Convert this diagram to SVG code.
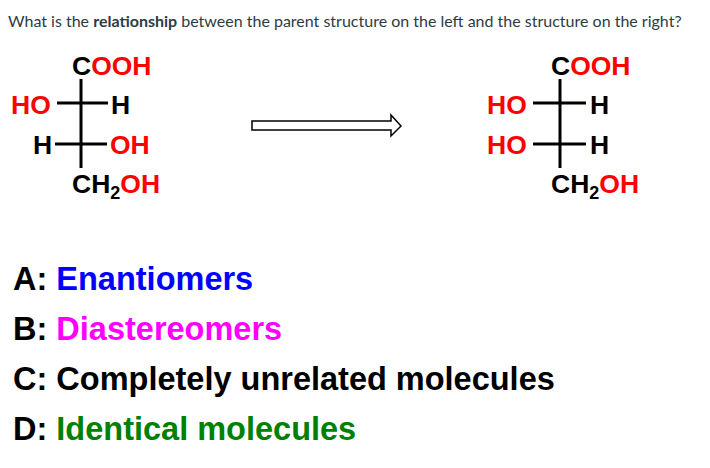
<svg xmlns="http://www.w3.org/2000/svg" width="710" height="468" viewBox="0 0 710 468">
<style>
.q{font-family:Lato,"Liberation Sans",sans-serif;font-size:16px;fill:#2d3b45}
.m{font-family:"Liberation Sans",Arial,sans-serif;font-weight:bold;font-size:26.5px}
.r{fill:#ff0000}.k{fill:#000}
.a{font-family:"Liberation Sans",Arial,sans-serif;font-weight:bold;font-size:32.5px;fill:#000}
.b{stroke:#000;stroke-width:3;fill:none}
</style>
<rect width="710" height="468" fill="#fff"/>
<text class="q" x="8" y="27">What is the <tspan font-weight="bold">relationship</tspan> between the parent structure on the left and the structure on the right?</text>
<g id="left">
<path class="b" d="M81 79V168M57 103H108M55 144H107"/>
<text class="m" x="72" y="75"><tspan class="k">C</tspan><tspan class="r">OOH</tspan></text>
<text class="m r" x="11" y="114">HO</text>
<text class="m k" x="111" y="114">H</text>
<text class="m k" x="33" y="154">H</text>
<text class="m r" x="110" y="154">OH</text>
<text class="m" x="72" y="193"><tspan class="k">CH</tspan><tspan class="k" font-size="18" dy="6">2</tspan><tspan class="r" dy="-6">OH</tspan></text>
</g>
<g id="connectors">
<path d="M252 121H391V115L401 126L391 136V130H252Z" fill="#fff" stroke="#000" stroke-width="1.5"/>
</g>
<g id="right">
<path class="b" d="M560 79V168M533 103H586M533 144H586"/>
<text class="m" x="551" y="75"><tspan class="k">C</tspan><tspan class="r">OOH</tspan></text>
<text class="m r" x="487" y="114">HO</text>
<text class="m k" x="590" y="114">H</text>
<text class="m r" x="487" y="154">HO</text>
<text class="m k" x="590" y="154">H</text>
<text class="m" x="551" y="193"><tspan class="k">CH</tspan><tspan class="k" font-size="18" dy="6">2</tspan><tspan class="r" dy="-6">OH</tspan></text>
</g>
<g id="answers">
<text class="a" x="13" y="290">A: <tspan fill="#0000ff">Enantiomers</tspan></text>
<text class="a" x="13" y="340">B: <tspan fill="#ff00ff">Diastereomers</tspan></text>
<text class="a" x="13" y="390">C: Completely unrelated molecules</text>
<text class="a" x="13" y="440">D: <tspan fill="#008000">Identical molecules</tspan></text>
</g>
</svg>
